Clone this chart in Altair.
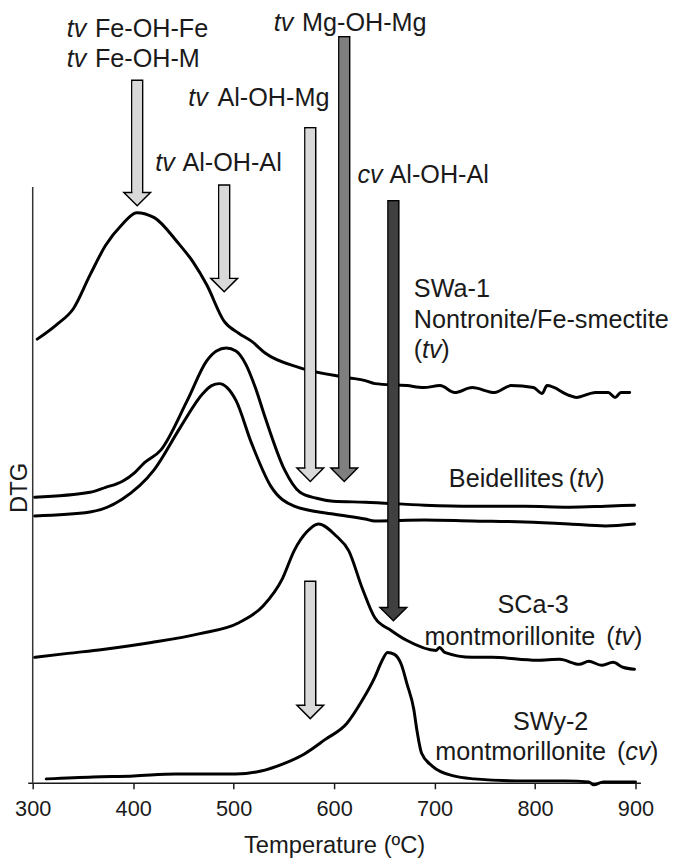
import altair as alt
import pandas as pd

FONT = "Liberation Sans"
INK = "#1a1a1a"

# ---------------- DTG curves (temperature in °C, DTG in arbitrary stacked units) ----------------
swa1_temp = [304.5, 324.2, 340.6, 357.1, 372.6, 389.0, 403.5, 421.0, 444.2, 459.7,
             473.2, 490.6, 505.0, 517.7, 531.3, 566.1, 614.5, 631.0, 640.6, 672.6, 689.0,
             705.5, 720.0, 737.4, 759.7, 776.1, 798.4, 807.1, 811.9, 834.2, 841.0,
             860.3, 872.9, 879.7, 885.5, 894.2]
swa1_dtg = [4.49, 4.64, 4.80, 5.14, 5.44, 5.65, 5.77, 5.72, 5.47, 5.27,
            5.04, 4.67, 4.55, 4.47, 4.35, 4.20, 4.10, 4.07, 4.04, 4.02, 4.00,
            4.02, 3.95, 4.00, 3.95, 4.02, 4.00, 3.94, 4.02, 3.92, 3.90,
            3.95, 3.95, 3.90, 3.95, 3.95]

beid1_temp = [301.9, 357.1, 372.6, 389.0, 401.6, 411.3, 427.7, 453.9, 473.2, 482.9,
              492.6, 502.3, 511.9, 521.6, 531.3, 550.6, 566.1, 582.6, 599.0, 631.0,
              690.0, 737.4, 790.0, 834.2, 870.0, 899.0]
beid1_dtg = [2.89, 2.94, 2.99, 3.05, 3.14, 3.24, 3.37, 3.87, 4.27, 4.37,
             4.40, 4.37, 4.24, 4.00, 3.70, 3.17, 2.94, 2.88, 2.85, 2.84,
             2.81, 2.80, 2.80, 2.79, 2.80, 2.81]

beid2_temp = [301.9, 357.1, 389.0, 421.0, 447.1, 469.4, 478.1, 485.8, 493.5, 502.3,
              517.7, 537.1, 560.3, 599.0, 631.0, 640.6, 690.0, 737.4, 790.0, 834.2,
              870.0, 899.0]
beid2_dtg = [2.70, 2.74, 2.87, 3.17, 3.60, 3.94, 4.02, 4.04, 4.00, 3.87,
             3.44, 3.00, 2.80, 2.72, 2.67, 2.65, 2.66, 2.65, 2.64, 2.62,
             2.60, 2.62]

sca3_temp = [301.9, 335.0, 369.7, 418.1, 466.4, 505.2, 529.3, 548.7, 560.3, 572.9,
             584.5, 601.9, 614.5, 628.0, 640.6, 657.1, 672.6, 701.6, 705.0, 710.0,
             737.4, 756.8, 802.2, 824.5, 843.9, 853.5, 866.1, 877.7, 887.4, 899.0]
sca3_dtg = [1.27, 1.31, 1.35, 1.42, 1.51, 1.62, 1.79, 2.07, 2.35, 2.54,
            2.62, 2.50, 2.35, 1.97, 1.67, 1.54, 1.44, 1.34, 1.37, 1.32,
            1.27, 1.27, 1.24, 1.25, 1.20, 1.23, 1.19, 1.22, 1.17, 1.15]

swy2_temp = [313.5, 360.0, 400.6, 442.3, 502.3, 527.4, 548.7, 570.0, 591.3, 612.6,
             627.1, 640.6, 647.0, 653.2, 660.0, 666.8, 672.6, 679.4, 682.3, 687.1,
             697.7, 719.0, 739.3, 781.9, 830.0, 853.5, 858.4, 868.0, 900.0]
swy2_dtg = [0.04, 0.06, 0.07, 0.09, 0.09, 0.12, 0.19, 0.29, 0.44, 0.60,
            0.82, 1.07, 1.22, 1.32, 1.30, 1.20, 1.00, 0.74, 0.54, 0.30,
            0.17, 0.07, 0.04, 0.02, 0.02, 0.01, -0.02, 0.01, 0.01]

# ---------------- arrows (band position °C, top and tip in DTG units) ----------------
arrow_name = ["tv Fe-OH-Fe", "tv Al-OH-Al", "tv Al-OH-Mg", "tv Mg-OH-Mg", "cv Al-OH-Al", "tv Al-OH-Mg (SWy-2)"]
arrow_temp = [404.0, 490.6, 576.3, 610.1, 659.0, 576.3]
arrow_top = [7.11, 6.05, 6.63, 7.55, 5.89, 2.04]
arrow_tip = [5.84, 4.97, 3.05, 3.05, 1.64, 0.65]
arrow_fill = ["#d9d9d9", "#d9d9d9", "#d9d9d9", "#7f7f7f", "#404040", "#d9d9d9"]

# ---------------- annotation text pieces ----------------
ital_text = ["tv", "tv", "tv", "tv", "tv", "cv", "tv", "tv", "tv", "cv"]
ital_temp = [333.9, 333.9, 540.0, 454.8, 421.9, 623.2, 687.6, 841.7, 879.2, 889.8]
ital_dtg = [7.55, 7.24, 7.61, 6.85, 6.19, 6.07, 4.30, 2.99, 1.40, 0.23]

reg_text = ["Fe-OH-Fe", "Fe-OH-M", "Mg-OH-Mg", "Al-OH-Mg", "Al-OH-Al", "Al-OH-Al",
            "SWa-1", "Nontronite/Fe-smectite", "(", ")",
            "Beidellites", "(", ")",
            "SCa-3", "montmorillonite", "(", ")",
            "SWy-2", "montmorillonite", "(", ")"]
reg_temp = [361.9, 361.9, 568.1, 483.9, 449.0, 655.2,
            679.4, 679.4, 679.4, 706.7,
            714.2, 833.5, 860.9,
            762.6, 690.0, 871.0, 898.5,
            778.1, 700.6, 881.6, 914.5]
reg_dtg = [7.55, 7.24, 7.61, 6.85, 6.19, 6.07,
           4.92, 4.60, 4.30, 4.30,
           2.99, 2.99, 2.99,
           1.72, 1.40, 1.40, 1.40,
           0.53, 0.23, 0.23, 0.23]

x_ticks = [300, 400, 500, 600, 700, 800, 900]
y_axis_top = 6.03

# ---------------- tables ----------------
curves = {
    "SWa-1": (swa1_temp, swa1_dtg),
    "Beidellite 1": (beid1_temp, beid1_dtg),
    "Beidellite 2": (beid2_temp, beid2_dtg),
    "SCa-3": (sca3_temp, sca3_dtg),
    "SWy-2": (swy2_temp, swy2_dtg),
}
curve_df = pd.DataFrame(
    [{"series": k, "T": t, "D": d} for k, (ts, ds) in curves.items() for t, d in zip(ts, ds)]
)
arrow_df = pd.DataFrame({"name": arrow_name, "T": arrow_temp, "top": arrow_top,
                         "tip": arrow_tip, "fill": arrow_fill})
ital_df = pd.DataFrame({"text": ital_text, "T": ital_temp, "D": ital_dtg})
reg_df = pd.DataFrame({"text": reg_text, "T": reg_temp, "D": reg_dtg})
yline_df = pd.DataFrame({"T": [300], "D": [0.0], "D2": [y_axis_top]})

xscale = alt.Scale(domain=[300, 900], nice=False, zero=False)
yscale = alt.Scale(domain=[0, 7.79], nice=False, zero=False)

xaxis = alt.Axis(values=x_ticks, title="Temperature (ºC)", grid=False, format="d",
                 tickSize=6, tickWidth=1.5, tickColor=INK, domainColor=INK, domainWidth=1.5,
                 labelFont=FONT, labelFontSize=22, labelColor=INK, labelPadding=10,
                 labelFlush=False,
                 titleFont=FONT, titleFontSize=24, titleFontWeight="normal",
                 titleColor=INK, titleY=51, titleBaseline="top")
yaxis = alt.Axis(title="DTG", labels=False, ticks=False, domain=False, grid=False,
                 titleX=-8, titleY=480, titleAngle=270, titleAlign="center",
                 titleBaseline="middle", titleFont=FONT, titleFontSize=24,
                 titleFontWeight="normal", titleColor=INK)


def X(f):
    return alt.X(f"{f}:Q", scale=xscale, axis=xaxis)


def Y(f):
    return alt.Y(f"{f}:Q", scale=yscale, axis=yaxis)


yline = alt.Chart(yline_df).mark_rule(color="#333333", strokeWidth=1.5).encode(
    x=X("T"), y=Y("D"), y2="D2")

lines = alt.Chart(curve_df).mark_line(color="black", strokeWidth=3, interpolate="monotone",
                                      strokeJoin="round", strokeCap="round").encode(
    x=X("T"), y=Y("D"), detail="series:N", order="T:Q")

shaft = alt.Chart(arrow_df).mark_bar(size=11, stroke="black", strokeWidth=1.5,
                                     y2Offset=-13).encode(
    x=X("T"), y=Y("top"), y2="tip:Q", fill=alt.Fill("fill:N", scale=None))

head = alt.Chart(arrow_df).mark_point(shape="M-1,-1L1,-1L0,0Z", size=729, filled=True,
                                      opacity=1, stroke="black", strokeWidth=1.5,
                                      strokeJoin="miter").encode(
    x=X("T"), y=Y("tip"), fill=alt.Fill("fill:N", scale=None))

shaft_fill = alt.Chart(arrow_df).mark_bar(size=9.5, yOffset=1, y2Offset=-11,
                                          strokeWidth=0).encode(
    x=X("T"), y=Y("top"), y2="tip:Q", fill=alt.Fill("fill:N", scale=None))

ital = alt.Chart(ital_df).mark_text(font=FONT, fontSize=25.5, fontStyle="italic",
                                    align="left", baseline="alphabetic", color=INK).encode(
    x=X("T"), y=Y("D"), text="text:N")

reg = alt.Chart(reg_df).mark_text(font=FONT, fontSize=25.5, align="left",
                                  baseline="alphabetic", color=INK).encode(
    x=X("T"), y=Y("D"), text="text:N")

chart = alt.layer(yline, lines, shaft, head, shaft_fill, ital, reg).properties(
    width=620, height=779,
    autosize=alt.AutoSizeParams(type="none"),
    padding={"left": 20, "top": 0, "right": 37, "bottom": 76},
    background="white",
).configure_view(strokeWidth=0)

chart.save("out.html", embed_options={"renderer": "svg", "actions": False})
